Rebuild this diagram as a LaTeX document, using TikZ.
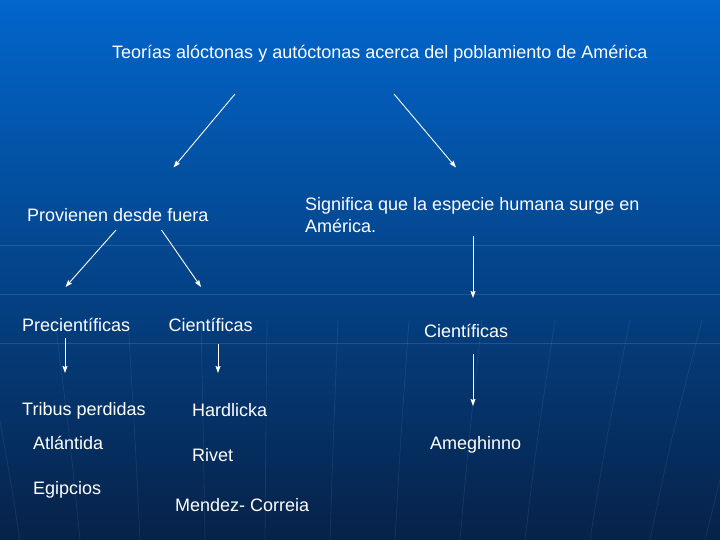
\documentclass[tikz,border=0pt]{standalone}
\usepackage{fontspec}
\setmainfont{Liberation Sans}
\usetikzlibrary{arrows.meta}
\usetikzlibrary{positioning}
\definecolor{bgtop}{RGB}{2,102,204}
\definecolor{bgmid}{RGB}{8,70,150}
\definecolor{bgbot}{RGB}{6,34,72}
\tikzset{lbl/.style = {anchor = base west, inner sep = 0, text = white, font = \fontsize{18}{22}\selectfont},
         arr/.style = {white, line width = 0.9pt, -{Stealth[length=7pt, width=5pt, inset=1pt]}},
         streak/.style = {white, opacity = 0.07, line width = 0.8pt}}

\begin{document}
\begin{tikzpicture}[x=1pt, y=-1pt]
            \useasboundingbox (0,0) rectangle (720,540);
            % background
            \begin{scope}
                \clip (0,0) rectangle (720,540);
                \shade [top color=bgtop, middle color=bgmid, bottom color=bgbot] (0,0) rectangle (720,540);
                \foreach \y in {245,294,343} \draw [white, opacity=0.12, line width=0.8pt] (0,\y) -- (720,\y);
                \foreach \x/\b in {20/-40,80/-25,140/-12,205/-4,265/2,330/8,395/14,460/22,525/30,590/40,650/52,705/62}
                    \draw [streak] (\x,540) .. controls (\x+\b*0.4,440) .. (\x+\b,320);
            \end{scope}
            % texts
            \node [lbl] (titulo) at (112,59) {Teorías alóctonas y autóctonas acerca del poblamiento de América};
            \node [lbl] (fuera) at (27,222) {Provienen desde fuera};
            \node [lbl, anchor=north west, align=left] (surge) at (305,197.5) {Significa que la especie humana surge en\\América.};
            \node [lbl] (precien) at (22,331) {Precientíficas};
            \node [lbl] (cienA) at (168.5,331) {Científicas};
            \node [lbl] (cienB) at (424,337) {Científicas};
            \node [lbl] (tribus) at (22,415) {Tribus perdidas};
            \node [lbl] (atlan) at (33,449) {Atlántida};
            \node [lbl] (egip) at (33,494) {Egipcios};
            \node [lbl] (hard) at (192,416) {Hardlicka};
            \node [lbl] (rivet) at (192,461) {Rivet};
            \node [lbl] (mendez) at (175,511) {Mendez- Correia};
            \node [lbl] (ameg) at (430,449) {Ameghinno};
            % arrow ends
            \coordinate (t1) at (235,94);   \coordinate (f1) at (173.5,167.5);
            \coordinate (t2) at (394,94);   \coordinate (s1) at (456,167.5);
            \coordinate (f2) at (116,230);  \coordinate (p1) at (65.5,287);
            \coordinate (f3) at (161.5,230);\coordinate (c1) at (201,287);
            \coordinate (s2) at (473,236);  \coordinate (c2) at (473,298);
            \coordinate (p2) at (65,338);   \coordinate (tr) at (65,373);
            \coordinate (c3) at (218,344);  \coordinate (hd) at (218,373);
            \coordinate (c4) at (473,354);  \coordinate (am) at (473,406);
            \draw [arr] (t1) -- (f1);
            \draw [arr] (t2) -- (s1);
            \draw [arr] (f2) -- (p1);
            \draw [arr] (f3) -- (c1);
            \draw [arr] (s2) -- (c2);
            \draw [arr] (p2) -- (tr);
            \draw [arr] (c3) -- (hd);
            \draw [arr] (c4) -- (am);
        \end{tikzpicture}
\end{document}
